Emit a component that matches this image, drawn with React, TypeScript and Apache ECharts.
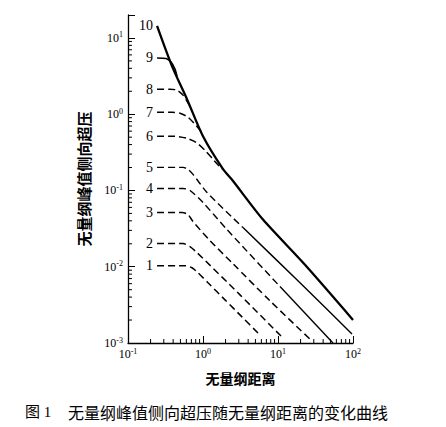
import React, { useEffect, useRef } from "react";
import * as echarts from "echarts";

// ---- data (x: dimensionless distance, y: dimensionless overpressure) ----
const curveNames = ["1", "2", "3", "4", "5", "6", "7", "8", "9", "10"];

const curve1 = [[0.244, 0.0103], [0.593, 0.0103], [0.713, 0.0097], [0.858, 0.00834], [1.166, 0.00616], [1.965, 0.00368], [3.311, 0.0022], [5.412, 0.00135]];
const curve2 = [[0.244, 0.0201], [0.541, 0.0201], [0.671, 0.0183], [0.832, 0.0153], [3.113, 0.00428], [11.66, 0.00116]];
const curve3 = [[0.244, 0.0514], [0.525, 0.0514], [0.631, 0.0483], [0.736, 0.0391], [1.24, 0.022], [2.512, 0.01094], [7.822, 0.00357], [28.4, 0.00106]];
const curve4 = [[0.244, 0.1062], [0.541, 0.1062], [0.671, 0.1], [1.0, 0.0695], [2.089, 0.0307], [10.63, 0.0055], [54.12, 0.001]];
const curve5 = [[0.244, 0.201], [0.541, 0.201], [0.631, 0.189], [0.736, 0.1626], [1.131, 0.0942], [3.415, 0.0326], [19.65, 0.00616], [97.0, 0.00131]];
const curve6 = [[0.244, 0.514], [0.423, 0.514], [0.612, 0.483], [0.807, 0.428], [1.063, 0.336], [1.402, 0.248], [1.792, 0.19]];
const curve7 = [[0.244, 1.062], [0.386, 1.062], [0.494, 1.03], [0.631, 0.914], [0.782, 0.738], [0.94, 0.597]];
const curve8 = [[0.244, 2.13], [0.363, 2.13], [0.45, 2.07], [0.541, 1.78], [0.671, 1.274]];
const curve9 = [[0.244, 5.46], [0.321, 5.37], [0.375, 4.83], [0.423, 3.91], [0.45, 3.16]];
const curve10 = [[0.244, 14.4], [0.386, 4.28], [0.612, 1.575], [1.0, 0.514], [1.85, 0.19], [2.44, 0.138], [6.31, 0.0415], [22.9, 0.0106], [100, 0.00201]];

const curves = [curve1, curve2, curve3, curve4, curve5, curve6, curve7, curve8, curve9, curve10];

// axis ranges and tick values
const xRange = [0.1, 100];
const yRange = [0.001, 20];
const xDecades = [0.1, 1, 10];
const yDecades = [0.001, 0.01, 0.1, 1];
const minorMultipliers = [2, 3, 4, 5, 6, 7, 8, 9];

// ---- styles (kept apart from the data) ----
const DASH = [7, 4];
const curveStyle: Record<string, { width: number; dashed: boolean; solidFromX?: number }> = {
  "1": { width: 1.5, dashed: true },
  "2": { width: 1.5, dashed: true },
  "3": { width: 1.5, dashed: true },
  "4": { width: 1.4, dashed: true, solidFromX: 10.63 },
  "5": { width: 1.4, dashed: true, solidFromX: 3.415 },
  "6": { width: 1.5, dashed: true },
  "7": { width: 1.5, dashed: true },
  "8": { width: 1.5, dashed: true },
  "9": { width: 1.6, dashed: false },
  "10": { width: 2.3, dashed: false },
};

const SERIF = '"Liberation Serif", "Times New Roman", serif';
const CJK = '"Noto Sans CJK SC", sans-serif';
const MIXED = '"Liberation Serif", "Noto Sans CJK SC", serif';

function powLabel(v: number): string {
  const l = Math.log10(v);
  const e = Math.round(l);
  if (Math.abs(l - e) > 1e-6) return "";
  return `{b|10}{s|${e}}`;
}

const labelRich = {
  b: { fontFamily: SERIF, fontSize: 12, color: "#000", lineHeight: 14 },
  s: { fontFamily: SERIF, fontSize: 8, color: "#000", lineHeight: 8, verticalAlign: "top" },
};

export default function App() {
  const ref = useRef<HTMLDivElement>(null);

  useEffect(() => {
    document.body.style.margin = "0";
    if (!ref.current) return;
    const chart = echarts.init(ref.current, undefined, { renderer: "svg" });

    const lineSeries: any[] = [];
    curves.forEach((pts, i) => {
      const name = curveNames[i];
      const st = curveStyle[name];
      const mk = (data: number[][], dashed: boolean) => ({
        type: "line",
        name,
        data,
        showSymbol: false,
        symbol: "none",
        smooth: 0.25,
        silent: true,
        lineStyle: { color: "#000", width: st.width, type: dashed ? DASH : "solid", cap: "butt" },
        z: name === "10" ? 5 : 3,
      });
      if (st.solidFromX !== undefined) {
        const k = pts.findIndex((p) => p[0] === st.solidFromX);
        lineSeries.push(mk(pts.slice(0, k + 1), true));
        lineSeries.push(mk(pts.slice(k), false));
      } else {
        lineSeries.push(mk(pts, st.dashed));
      }
    });

    const labelSeries = {
      type: "scatter",
      silent: true,
      symbol: "circle",
      symbolSize: 2,
      itemStyle: { color: "transparent", opacity: 1 },
      data: curves.map((pts, i) => ({ name: curveNames[i], value: pts[0] })),
      label: {
        show: true,
        position: "left",
        distance: 3,
        formatter: "{b}",
        fontFamily: SERIF,
        fontSize: 14,
        color: "#000",
        opacity: 1,
      },
      z: 6,
    };

    const xMinor = xDecades.flatMap((d) => minorMultipliers.map((m) => +(m * d).toPrecision(3)));
    const yMinor = yDecades.flatMap((d) => minorMultipliers.map((m) => +(m * d).toPrecision(3)));

    const xMinorSeries = {
      type: "custom",
      silent: true,
      data: xMinor.map((v) => [v, yRange[0]]),
      renderItem: (_p: any, api: any) => {
        const c = api.coord([api.value(0), api.value(1)]);
        return {
          type: "line",
          shape: { x1: c[0], y1: c[1], x2: c[0], y2: c[1] - 4 },
          style: { stroke: "#000", lineWidth: 1 },
        };
      },
      z: 4,
    };
    const yMinorSeries = {
      type: "custom",
      silent: true,
      data: yMinor.map((v) => [xRange[0], v]),
      renderItem: (_p: any, api: any) => {
        const c = api.coord([api.value(0), api.value(1)]);
        return {
          type: "line",
          shape: { x1: c[0], y1: c[1], x2: c[0] + 4, y2: c[1] },
          style: { stroke: "#000", lineWidth: 1 },
        };
      },
      z: 4,
    };

    const axisCommon = {
      type: "log",
      logBase: 10,
      axisLine: { show: true, lineStyle: { color: "#000", width: 1.3 } },
      axisTick: { show: true, inside: true, length: 7, lineStyle: { color: "#000", width: 1 } },
      splitLine: { show: false },
      minorTick: { show: false },
      nameLocation: "middle",
    };

    chart.setOption({
      animation: false,
      backgroundColor: "#fff",
      grid: { left: 128, right: 93, top: 15, bottom: 84, containLabel: false },
      xAxis: {
        ...axisCommon,
        min: xRange[0],
        max: xRange[1],
        name: "无量纲距离",
        nameGap: 28,
        nameTextStyle: { fontFamily: CJK, fontWeight: "bold", fontSize: 14, color: "#000" },
        axisLabel: { margin: 4, formatter: powLabel, rich: labelRich, color: "#000" },
      },
      yAxis: {
        ...axisCommon,
        min: yRange[0],
        max: yRange[1],
        name: "无量纲峰值侧向超压",
        nameGap: 37,
        nameTextStyle: { fontFamily: CJK, fontWeight: "bold", fontSize: 15, color: "#000" },
        axisLabel: { margin: 5, formatter: powLabel, rich: labelRich, color: "#000" },
      },
      graphic: [
        {
          type: "text",
          left: 25,
          top: 404,
          style: { text: "图 1", font: `15px ${MIXED}`, fill: "#000" },
        },
        {
          type: "text",
          left: 68,
          top: 404,
          style: { text: "无量纲峰值侧向超压随无量纲距离的变化曲线", font: `16px ${CJK}`, fill: "#000" },
        },
      ],
      series: [...lineSeries, labelSeries, xMinorSeries, yMinorSeries],
    });

    return () => chart.dispose();
  }, []);

  return <div ref={ref} style={{ width: 446, height: 427 }} />;
}
